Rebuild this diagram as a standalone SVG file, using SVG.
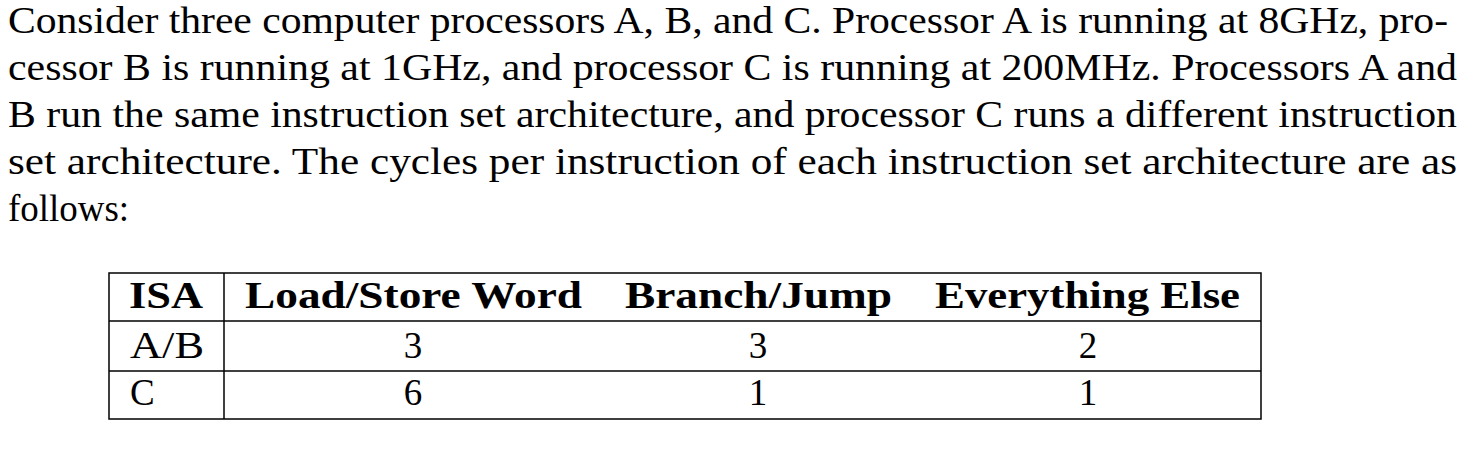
<svg xmlns="http://www.w3.org/2000/svg" width="1470" height="458" viewBox="0 0 1470 458">
<style>
text{font-family:"Liberation Serif","DejaVu Serif",serif;font-size:37px;fill:#000}
.b{font-weight:bold}
.c{text-anchor:middle}
line{stroke:#000;stroke-width:1.5}
</style>
<rect width="1470" height="458" fill="#fff"/>
<g id="paragraph">
<text x="8" y="33" textLength="1440" lengthAdjust="spacingAndGlyphs">Consider three computer processors A, B, and C. Processor A is running at 8GHz, pro-</text>
<text x="8" y="80" textLength="1449" lengthAdjust="spacingAndGlyphs">cessor B is running at 1GHz, and processor C is running at 200MHz. Processors A and</text>
<text x="8" y="127" textLength="1449" lengthAdjust="spacingAndGlyphs">B run the same instruction set architecture, and processor C runs a different instruction</text>
<text x="8" y="174" textLength="1449" lengthAdjust="spacingAndGlyphs">set architecture. The cycles per instruction of each instruction set architecture are as</text>
<text x="8" y="221" textLength="121" lengthAdjust="spacingAndGlyphs">follows:</text>
</g>
<g id="table">
<rect x="109" y="273" width="1152" height="146" fill="none" stroke="#000" stroke-width="1.5"/>
<line x1="224" y1="273" x2="224" y2="419"/>
<line x1="109" y1="321" x2="1261" y2="321"/>
<line x1="109" y1="371" x2="1261" y2="371"/>
<text class="b" x="129" y="308" textLength="74" lengthAdjust="spacingAndGlyphs">ISA</text>
<text class="b" x="245" y="308" textLength="337" lengthAdjust="spacingAndGlyphs">Load/Store Word</text>
<text class="b" x="625" y="308" textLength="267" lengthAdjust="spacingAndGlyphs">Branch/Jump</text>
<text class="b" x="935" y="308" textLength="305" lengthAdjust="spacingAndGlyphs">Everything Else</text>
<text x="130" y="358" textLength="74" lengthAdjust="spacingAndGlyphs">A/B</text>
<text class="c" x="413" y="358">3</text>
<text class="c" x="758" y="358">3</text>
<text class="c" x="1088" y="358">2</text>
<text x="130" y="405">C</text>
<text class="c" x="413" y="405">6</text>
<text class="c" x="758" y="405">1</text>
<text class="c" x="1088" y="405">1</text>
</g>
</svg>
